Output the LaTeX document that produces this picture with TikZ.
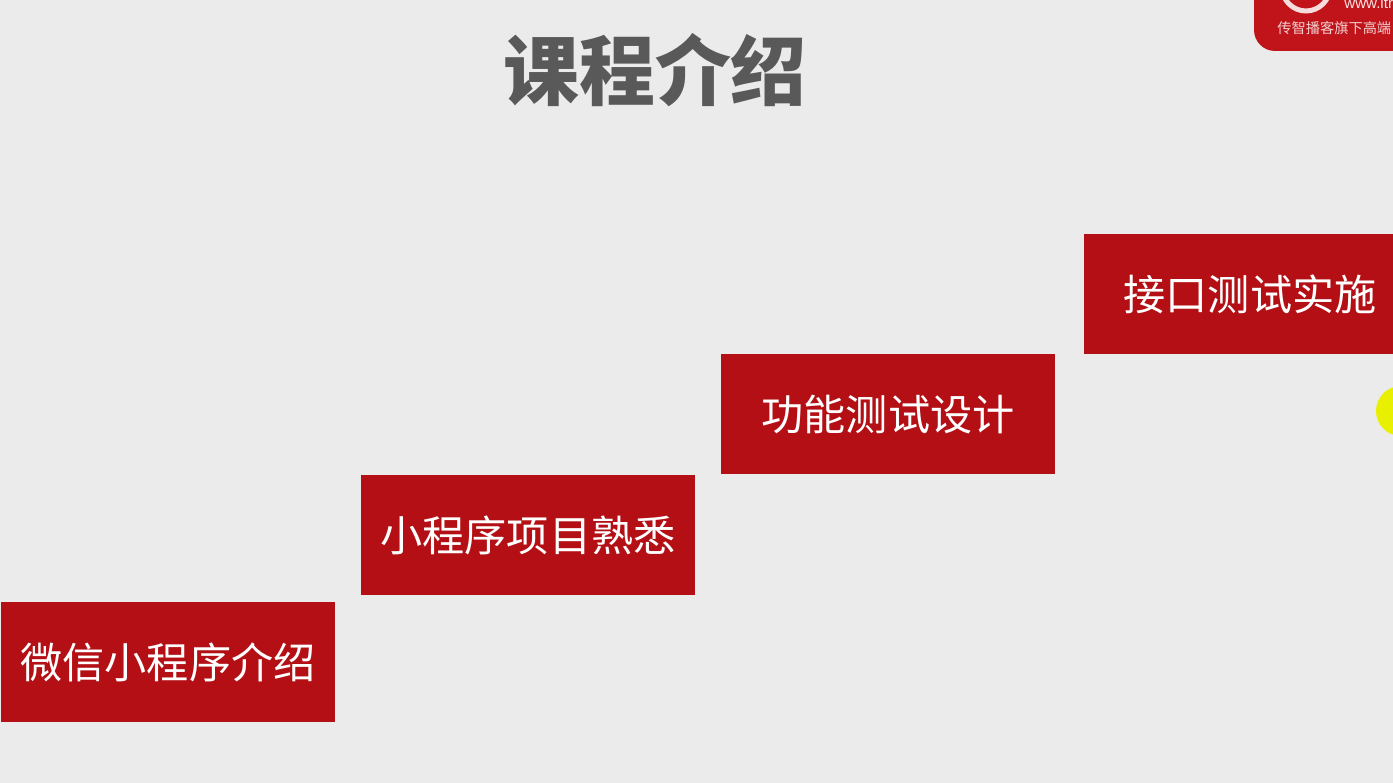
\documentclass[tikz,border=0pt]{standalone}
\usepackage{fontspec}
\setmainfont{Noto Sans CJK SC}
\newfontfamily\latinfont{Liberation Sans}
\usetikzlibrary{positioning}
\definecolor{pagegray}{HTML}{EBEBEB}
\definecolor{boxred}{HTML}{B30F14}
\definecolor{logored}{HTML}{C0141A}
\definecolor{titlegray}{HTML}{595959}
\definecolor{markeryellow}{HTML}{E8F000}
\tikzset{
    stepbox/.style={fill=boxred, text=white, minimum width=334*0.02cm, minimum height=120*0.02cm,
        inner sep=0pt, font=\fontsize{24pt}{28pt}\selectfont},
}

\begin{document}
\begin{tikzpicture}[x=0.02cm, y=-0.02cm]
    % Page and clipping to the screen
    \fill[pagegray] (0,0) rectangle (1393,783);
    \useasboundingbox (0,0) rectangle (1393,783);
    \clip (0,0) rectangle (1393,783);

    % Logo in the corner
    \fill[logored, rounded corners=0.42cm] (1254,-40) rectangle (1440,51);
    \draw[white!85!logored, line width=5*0.02cm] (1306,-13) circle (24);
    \node[text=white!88!logored, anchor=west, inner sep=0pt, font=\latinfont\fontsize{8.6pt}{10pt}\selectfont] (logourl) at (1344,3) {www.itr};
    \node[text=white!80!logored, anchor=west, inner sep=0pt, font=\fontsize{8.1pt}{10pt}\selectfont] (logotext) at (1277,28) {传智播客旗下高端};

    % Title
    \node[text=titlegray, inner sep=0pt, font=\fontsize{43.2pt}{50pt}\selectfont\bfseries] (title) at (655,70) {课程介绍};

    % The four steps
    \node[stepbox] (intro) at (168,662) {微信小程序介绍};
    \node[stepbox] (project) at (528,535) {小程序项目熟悉};
    \node[stepbox] (design) at (888,414.5) {功能测试设计};
    \node[stepbox, anchor=west] (practice) at (1084,294) {};
    \node[text=white, inner sep=0pt, font=\fontsize{24pt}{28pt}\selectfont] (practicetext) at (1250,294.5) {接口测试实施};

    % Pointer marker at the edge
    \fill[markeryellow] (1401,411) circle (25);
\end{tikzpicture}
\end{document}
